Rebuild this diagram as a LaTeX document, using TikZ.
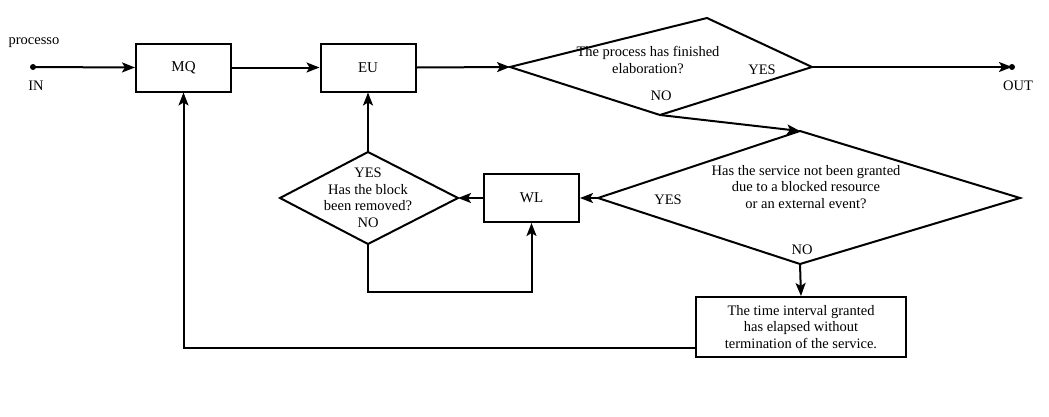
\documentclass[tikz,border=0pt]{standalone}
\usepackage{fontspec}
\setmainfont{Liberation Serif}
\usetikzlibrary{arrows.meta}
\begin{document}
\begin{tikzpicture}[x=1pt,y=-1pt,
  ln/.style={line width=2pt},
  ar/.style={ln,-{Stealth[length=13pt,width=10pt,inset=3pt]}},
  bx/.style={draw,line width=2pt,minimum width=95pt,minimum height=48pt,font=\fontsize{15}{16}\selectfont},
  tx/.style={font=\fontsize{14.5}{16.5}\selectfont,align=center,inner sep=0pt}]
\useasboundingbox (0,0) rectangle (1049,416);
\fill (33,67) circle (3pt) coordinate (in);
\node[tx] at (34,43) {processo};
\node[tx] at (36,86) {IN};
\fill (1012,67) circle (3pt) coordinate (out);
\node[tx] at (1018,86) {OUT};
\node[bx] (mq) at (183.5,67.5) {MQ};
\node[bx] (eu) at (368,67.5) {EU};
\node[bx] (wl) at (531.5,198) {WL};
\node[draw,line width=2pt,minimum width=210pt,minimum height=60pt,tx,inner sep=4pt] (tb) at (801,327) {The time interval granted\\has elapsed without\\termination of the service.};
% diamond 1
\coordinate (d1l) at (510,67); \coordinate (d1r) at (812,67);
\coordinate (d1t) at (707,18); \coordinate (d1b) at (660,115);
\draw[ln] (d1l)--(d1t)--(d1r)--(d1b)--cycle;
\node[tx] at (648,60) {The process has finished\\elaboration?};
\node[tx] at (762,70) {YES};
\node[tx] at (661,96) {NO};
% diamond 2
\coordinate (d2l) at (598,198); \coordinate (d2r) at (1020,198);
\coordinate (d2t) at (800,131); \coordinate (d2b) at (800,264);
\draw[ln] (d2l)--(d2t)--(d2r)--(d2b)--cycle;
\node[tx] at (806,187) {Has the service not been granted\\due to a blocked resource\\or an external event?};
\node[tx] at (668,200) {YES};
\node[tx] at (802,250) {NO};
% diamond 3
\coordinate (d3l) at (280,198); \coordinate (d3r) at (458,198);
\coordinate (d3t) at (368,152); \coordinate (d3b) at (368,244);
\draw[ln] (d3l)--(d3t)--(d3r)--(d3b)--cycle;
\node[tx] at (368,198) {YES\\Has the block\\been removed?\\NO};
% connectors
\draw[ar] (in) -- (mq.west);
\draw[ar] (mq.east) -- (eu.west);
\draw[ar] (eu.east) -- (d1l);
\draw[ar] (d1r) -- (out);
\draw[ar] (d1b) -- (d2t);
\draw[ar] (d2l) -- (wl.east);
\draw[ar] (wl.west) -- (d3r);
\draw[ar] (d3t) -- (eu.south);
\draw[ar] (d3b) -- (368,292) -- (wl.south |- 0,292) -- (wl.south);
\draw[ar] (d2b) -- (tb.north);
\draw[ar] (tb.west |- 0,348) -- (mq.south |- 0,348) -- (mq.south);
\end{tikzpicture}
\end{document}
